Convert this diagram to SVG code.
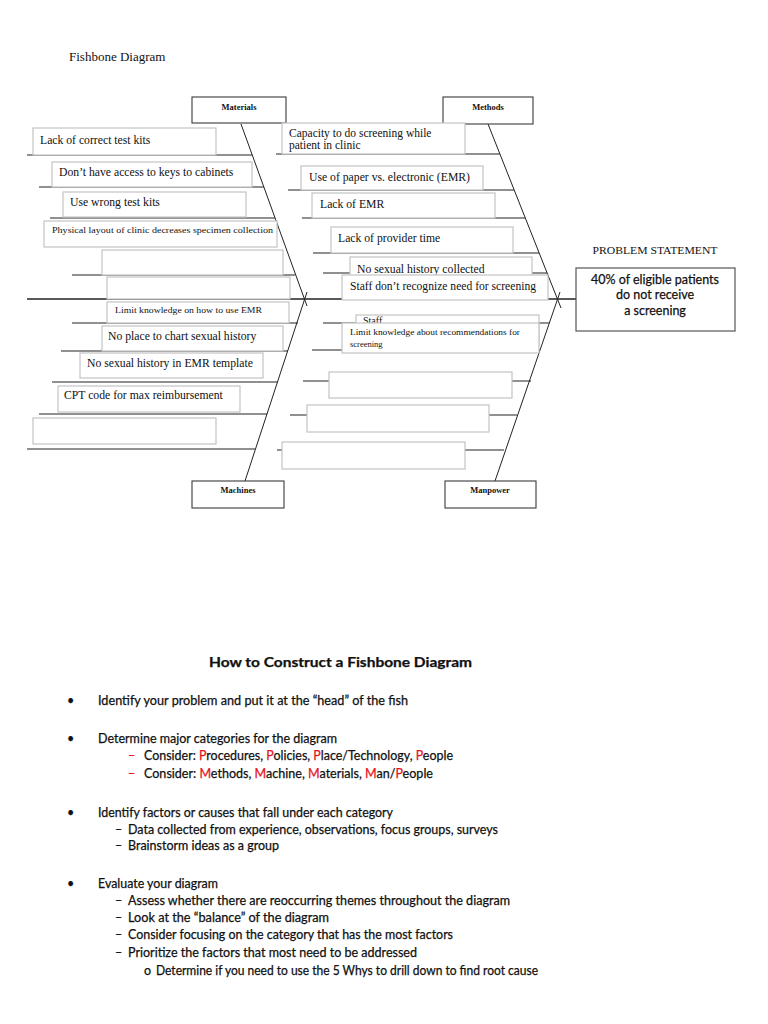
<svg xmlns="http://www.w3.org/2000/svg" width="768" height="1024" viewBox="0 0 768 1024">
<style>
.bg{fill:#fff}
.ln{stroke:#222;stroke-width:1.1;fill:none}
.sp{stroke:#222;stroke-width:1.4;fill:none}
.dg{stroke:#222;stroke-width:1;fill:none}
.tb{fill:#fff;stroke:#c4c4c4;stroke-width:1.2}
.cb{fill:#fff;stroke:#3a3a3a;stroke-width:1.1}
.hb{fill:#fff;stroke:#555;stroke-width:1.2}
.s{font-family:"Liberation Serif","Times New Roman",serif;fill:#111}
.t11{font-size:11.7px}
.t10{font-size:11.5px}
.t9{font-size:9px}
.t8{font-size:8.5px}
.cat{font-family:"Liberation Serif",serif;font-size:8.5px;font-weight:bold;fill:#111;text-anchor:middle}
.b{font-family:Lato,"Liberation Sans",sans-serif;font-size:12.5px;fill:#111;stroke:#111;stroke-width:0.25}
.r{fill:#e8141c;stroke:#e8141c}
</style>
<rect class="bg" x="0" y="0" width="768" height="1024"/>
<text class="s" x="69" y="61" font-size="13px">Fishbone Diagram</text>

<g id="connectors">
  <line class="sp" x1="27" y1="299" x2="576" y2="299"/>
  <line class="ln" x1="27" y1="155" x2="252" y2="155"/>
  <line class="ln" x1="39" y1="187" x2="264" y2="187"/>
  <line class="ln" x1="50" y1="218" x2="275" y2="218"/>
  <line class="ln" x1="72" y1="275" x2="295" y2="275"/>
  <line class="ln" x1="72" y1="323" x2="298" y2="323"/>
  <line class="ln" x1="61" y1="351" x2="288" y2="351"/>
  <line class="ln" x1="52" y1="382" x2="278" y2="382"/>
  <line class="ln" x1="39" y1="414" x2="267" y2="414"/>
  <line class="ln" x1="27" y1="449" x2="255" y2="449"/>
  <line class="ln" x1="276" y1="154" x2="500" y2="154"/>
  <line class="ln" x1="288" y1="190" x2="514" y2="190"/>
  <line class="ln" x1="302" y1="218" x2="525" y2="218"/>
  <line class="ln" x1="313" y1="253" x2="539" y2="253"/>
  <line class="ln" x1="323" y1="273" x2="547" y2="273"/>
  <line class="ln" x1="323" y1="323" x2="549" y2="323"/>
  <line class="ln" x1="312" y1="350" x2="540" y2="350"/>
  <line class="ln" x1="303" y1="381" x2="531" y2="381"/>
  <line class="ln" x1="290" y1="415" x2="517" y2="415"/>
  <line class="ln" x1="277" y1="450" x2="504" y2="450"/>
  <line class="dg" x1="241" y1="124" x2="307" y2="306"/>
  <line class="dg" x1="307" y1="292" x2="245" y2="481"/>
  <line class="dg" x1="488" y1="124" x2="561" y2="308"/>
  <line class="dg" x1="560" y1="292" x2="495" y2="481"/>
</g>

<g id="materials"><rect class="cb" x="192" y="97" width="94" height="26"/><text class="cat" x="239" y="110">Materials</text></g>
<g id="methods"><rect class="cb" x="443" y="97" width="90" height="27"/><text class="cat" x="488" y="110">Methods</text></g>
<g id="machines"><rect class="cb" x="192" y="481" width="92" height="27"/><text class="cat" x="238" y="493">Machines</text></g>
<g id="manpower"><rect class="cb" x="445" y="481" width="91" height="27"/><text class="cat" x="490" y="493">Manpower</text></g>

<g id="problem">
  <text class="s" x="655" y="254" font-size="11px" text-anchor="middle" textLength="125" lengthAdjust="spacingAndGlyphs">PROBLEM STATEMENT</text>
  <rect class="hb" x="576" y="268" width="159" height="63"/>
  <text class="b" x="655" y="284" font-size="11px" text-anchor="middle">40% of eligible patients</text>
  <text class="b" x="655" y="299" font-size="11px" text-anchor="middle">do not receive</text>
  <text class="b" x="655" y="315" font-size="11px" text-anchor="middle">a screening</text>
</g>

<g id="m1"><rect class="tb" x="33" y="128" width="183" height="27"/><text class="s t11" x="40" y="144">Lack of correct test kits</text></g>
<g id="m2"><rect class="tb" x="52" y="162" width="200" height="25"/><text class="s t11" x="59" y="176">Don’t have access to keys to cabinets</text></g>
<g id="m3"><rect class="tb" x="63" y="192" width="183" height="25"/><text class="s t11" x="70" y="206">Use wrong test kits</text></g>
<g id="m4"><rect class="tb" x="44" y="221" width="233" height="26"/><text class="s t8" x="52" y="233" textLength="221" lengthAdjust="spacingAndGlyphs">Physical layout of clinic decreases specimen collection</text></g>
<g id="m5"><rect class="tb" x="102" y="250" width="181" height="25"/></g>
<g id="m6"><rect class="tb" x="107" y="277" width="183" height="22"/></g>
<g id="c1"><rect class="tb" x="107" y="302" width="182" height="21"/><text class="s t9" x="115" y="313" textLength="147" lengthAdjust="spacingAndGlyphs">Limit knowledge on how to use EMR</text></g>
<g id="c2"><rect class="tb" x="102" y="326" width="181" height="25"/><text class="s t11" x="108" y="340">No place to chart sexual history</text></g>
<g id="c3"><rect class="tb" x="80" y="353" width="183" height="25"/><text class="s t11" x="87" y="367">No sexual history in EMR template</text></g>
<g id="c4"><rect class="tb" x="58" y="386" width="182" height="26"/><text class="s t11" x="64" y="399">CPT code for max reimbursement</text></g>
<g id="c5"><rect class="tb" x="33" y="418" width="183" height="26"/></g>

<g id="t1"><rect class="tb" x="282" y="123" width="183" height="31"/><text class="s t10" x="289" y="137">Capacity to do screening while</text><text class="s t10" x="289" y="149">patient in clinic</text></g>
<g id="t2"><rect class="tb" x="301" y="166" width="182" height="24"/><text class="s t11" x="309" y="181">Use of paper vs. electronic (EMR)</text></g>
<g id="t3"><rect class="tb" x="312" y="193" width="183" height="25"/><text class="s t11" x="320" y="208">Lack of EMR</text></g>
<g id="t4"><rect class="tb" x="331" y="227" width="182" height="26"/><text class="s t11" x="338" y="242">Lack of provider time</text></g>
<g id="t5"><rect class="tb" x="350" y="257" width="182" height="26"/><text class="s t11" x="357" y="273">No sexual history collected</text></g>
<g id="p1"><rect class="tb" x="342" y="275" width="206" height="25"/><text class="s t10" x="350" y="290" textLength="186" lengthAdjust="spacingAndGlyphs">Staff don’t recognize need for screening</text></g>
<g id="p2"><rect class="tb" x="356" y="315" width="183" height="30"/><text class="s" font-size="10px" x="363" y="324">Staff</text></g>
<g id="p3"><rect class="tb" x="342" y="323" width="197" height="30"/><text class="s t8" x="350" y="335" textLength="170" lengthAdjust="spacingAndGlyphs">Limit knowledge about recommendations for</text><text class="s t8" x="350" y="347">screening</text></g>
<g id="p4"><rect class="tb" x="329" y="372" width="183" height="26"/></g>
<g id="p5"><rect class="tb" x="307" y="405" width="182" height="27"/></g>
<g id="p6"><rect class="tb" x="282" y="442" width="183" height="27"/></g>

<g id="instructions">
  <text class="b" x="209" y="667" font-size="16.5px" font-weight="bold" textLength="263" lengthAdjust="spacingAndGlyphs">How to Construct a Fishbone Diagram</text>
  <text class="b" x="67" y="705">•</text>
  <text class="b" x="98" y="705" textLength="310" lengthAdjust="spacingAndGlyphs">Identify your problem and put it at the “head” of the fish</text>
  <text class="b" x="67" y="743">•</text>
  <text class="b" x="98" y="743" textLength="239" lengthAdjust="spacingAndGlyphs">Determine major categories for the diagram</text>
  <text class="b r" x="128" y="760">–</text>
  <text class="b" x="144" y="760" textLength="309" lengthAdjust="spacingAndGlyphs">Consider: <tspan class="r">P</tspan>rocedures, <tspan class="r">P</tspan>olicies, <tspan class="r">P</tspan>lace/Technology, <tspan class="r">P</tspan>eople</text>
  <text class="b r" x="128" y="778">–</text>
  <text class="b" x="144" y="778" textLength="289" lengthAdjust="spacingAndGlyphs">Consider: <tspan class="r">M</tspan>ethods, <tspan class="r">M</tspan>achine, <tspan class="r">M</tspan>aterials, <tspan class="r">M</tspan>an/<tspan class="r">P</tspan>eople</text>
  <text class="b" x="67" y="817">•</text>
  <text class="b" x="98" y="817" textLength="295" lengthAdjust="spacingAndGlyphs">Identify factors or causes that fall under each category</text>
  <text class="b" x="115" y="834">–</text>
  <text class="b" x="128" y="834" textLength="370" lengthAdjust="spacingAndGlyphs">Data collected from experience, observations, focus groups, surveys</text>
  <text class="b" x="115" y="850">–</text>
  <text class="b" x="128" y="850" textLength="151" lengthAdjust="spacingAndGlyphs">Brainstorm ideas as a group</text>
  <text class="b" x="67" y="888">•</text>
  <text class="b" x="98" y="888" textLength="120" lengthAdjust="spacingAndGlyphs">Evaluate your diagram</text>
  <text class="b" x="115" y="905">–</text>
  <text class="b" x="128" y="905" textLength="382" lengthAdjust="spacingAndGlyphs">Assess whether there are reoccurring themes throughout the diagram</text>
  <text class="b" x="115" y="922">–</text>
  <text class="b" x="128" y="922" textLength="201" lengthAdjust="spacingAndGlyphs">Look at the “balance” of the diagram</text>
  <text class="b" x="115" y="939">–</text>
  <text class="b" x="128" y="939" textLength="325" lengthAdjust="spacingAndGlyphs">Consider focusing on the category that has the most factors</text>
  <text class="b" x="115" y="957">–</text>
  <text class="b" x="128" y="957" textLength="289" lengthAdjust="spacingAndGlyphs">Prioritize the factors that most need to be addressed</text>
  <text class="b" x="144" y="975">o</text>
  <text class="b" x="156" y="975" textLength="382" lengthAdjust="spacingAndGlyphs">Determine if you need to use the 5 Whys to drill down to find root cause</text>
</g>
</svg>
